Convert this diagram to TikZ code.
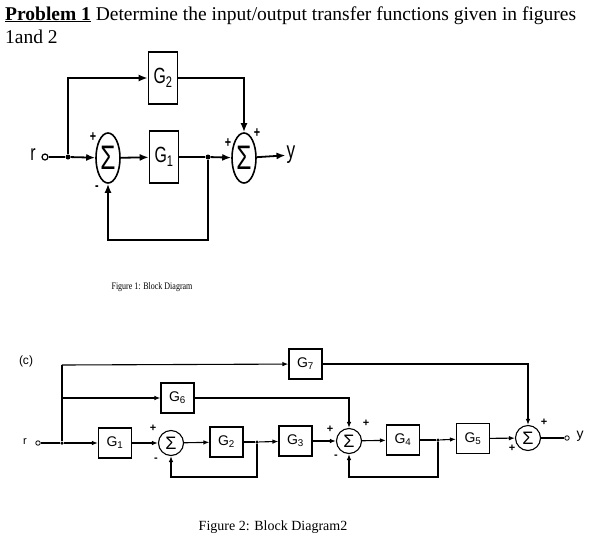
\documentclass[tikz,border=0pt]{standalone}
\usepackage{fontspec}
\setmainfont{Liberation Serif}
\setsansfont{Liberation Sans}
\newfontfamily\narrowsf[FakeStretch=0.72]{Liberation Sans}
\newfontfamily\narrowrm[FakeStretch=0.8]{Liberation Serif}
\usetikzlibrary{arrows.meta,shapes.geometric}

\begin{document}
\begin{tikzpicture}[x=1pt, y=-1pt,
    blkA/.style={draw, line width=1.6pt, minimum width=29pt, minimum height=52pt, inner sep=0pt, font=\narrowsf\fontsize{22}{22}\selectfont},
    sumA/.style={draw, ellipse, line width=1.6pt, minimum width=24pt, minimum height=50pt, inner sep=0pt, font=\narrowsf\fontsize{34}{34}\selectfont},
    lineA/.style={line width=1.8pt},
    wireA/.style={line width=1.8pt, -{Latex[length=9pt,width=7pt]}},
    dotA/.style={circle, fill, inner sep=0pt, minimum size=5pt},
    signA/.style={font=\narrowsf\bfseries\fontsize{15}{15}\selectfont, inner sep=0pt},
    blkB/.style={draw, line width=1.1pt, minimum width=33pt, minimum height=30pt, inner sep=0pt, font=\sffamily\fontsize{14}{14}\selectfont},
    sumB/.style={draw, circle, line width=1.1pt, minimum size=25pt, inner sep=0pt, font=\sffamily\fontsize{18}{18}\selectfont},
    lineB/.style={line width=1.1pt},
    wireB/.style={line width=1.1pt, -{Latex[length=6pt,width=4.5pt]}},
    dotB/.style={circle, fill, inner sep=0pt, minimum size=3.5pt},
    signB/.style={font=\sffamily\bfseries\fontsize{11}{11}\selectfont, inner sep=0pt},
    opencirc/.style={circle, draw, fill=white, inner sep=0pt, minimum size=4.5pt}]
    \useasboundingbox (0,0) rectangle (589,544);
    \node[anchor=base west, inner sep=0pt, font=\fontsize{19.5}{22}\selectfont] (title1) at (5,20) {\underline{\textbf{Problem 1}} Determine the input/output transfer functions given in figures};
    \node[anchor=base west, inner sep=0pt, font=\fontsize{19.5}{22}\selectfont] (title2) at (5,43) {1and 2};
    \node[font=\narrowsf\fontsize{22}{22}\selectfont, inner sep=0pt] (labrA) at (33,155) {r};
    \node[opencirc, line width=1.2pt, minimum size=6pt] (rA) at (45,157) {};
    \node[dotA] (dA1) at (68,157) {};
    \node[sumA] (sA1) at (108,158) {Σ};
    \node[blkA] (gA1) at (164,157) {G\textsubscript{1}};
    \node[blkA] (gA2) at (163,78) {G\textsubscript{2}};
    \node[dotA] (dA2) at (208,157) {};
    \node[sumA] (sA2) at (244,158) {Σ};
    \node[font=\narrowsf\fontsize{24}{24}\selectfont, inner sep=1pt] (yA) at (291,155) {y};
    \coordinate (fbA) at (208,240);
    \draw[lineA] (rA) -- (dA1);
    \draw[wireA] (dA1) -- (sA1);
    \draw[wireA] (dA1) |- (gA2);
    \draw[wireA] (sA1) -- (gA1);
    \draw[lineA] (gA1) -- (dA2);
    \draw[wireA] (dA2) -- (sA2);
    \draw[wireA] (gA2) -| (sA2);
    \draw[wireA] (sA2) -- (yA);
    \draw[wireA] (dA2) -- (fbA) -| (sA1);
    \node[signA] (pA1) at (93,137) {+};
    \node[signA] (mA1) at (97,188) {-};
    \node[signA] (pA2) at (228,143) {+};
    \node[signA] (pA3) at (257,133) {+};
    \node[font=\narrowrm\fontsize{10}{10}\selectfont, inner sep=0pt] (capA) at (152,287) {Figure 1: Block Diagram};
    \node[font=\sffamily\fontsize{12}{12}\selectfont, inner sep=0pt] (partc) at (26,361) {(c)};
    \node[font=\sffamily\fontsize{11}{11}\selectfont, inner sep=0pt] (labrB) at (25,442) {r};
    \node[opencirc, line width=0.8pt] (rB) at (38,443) {};
    \node[dotB] (dB1) at (62,443) {};
    \coordinate (tB) at (62,365);
    \coordinate (mB) at (62,398);
    \node[blkB] (gB1) at (115,443) {G\textsubscript{1}};
    \node[sumB] (sB1) at (171,443) {Σ};
    \node[blkB] (gB6) at (177.5,398) {G\textsubscript{6}};
    \node[blkB] (gB7) at (305.5,364) {G\textsubscript{7}};
    \node[blkB] (gB2) at (226.5,442) {G\textsubscript{2}};
    \node[dotB] (dB2) at (257,442) {};
    \node[blkB] (gB3) at (295.5,441) {G\textsubscript{3}};
    \node[sumB] (sB2) at (349,441) {Σ};
    \node[blkB] (gB4) at (403,440) {G\textsubscript{4}};
    \node[dotB] (dB3) at (438,440) {};
    \node[blkB] (gB5) at (473,438.5) {G\textsubscript{5}};
    \node[sumB] (sB3) at (528,438) {Σ};
    \node[opencirc, line width=0.8pt] (yB0) at (567,438) {};
    \node[font=\sffamily\fontsize{14}{14}\selectfont, inner sep=0pt] (labyB) at (580,436) {y};
    \coordinate (fbB1) at (257,477);
    \coordinate (fbB2) at (438,477);
    \draw[lineB] (rB) -- (dB1);
    \draw[lineB] (dB1) -- (tB);
    \draw[wireB] (tB) -- (gB7);
    \draw[wireB] (mB) -- (gB6);
    \draw[wireB] (dB1) -- (gB1);
    \draw[wireB] (gB1) -- (sB1);
    \draw[wireB] (sB1) -- (gB2);
    \draw[lineB] (gB2) -- (dB2);
    \draw[wireB] (dB2) -- (gB3);
    \draw[wireB] (dB2) -- (fbB1) -| (sB1);
    \draw[wireB] (gB3) -- (sB2);
    \draw[wireB] (gB6) -| (sB2);
    \draw[wireB] (sB2) -- (gB4);
    \draw[lineB] (gB4) -- (dB3);
    \draw[wireB] (dB3) -- (gB5);
    \draw[wireB] (dB3) -- (fbB2) -| (sB2);
    \draw[wireB] (gB5) -- (sB3);
    \draw[wireB] (gB7) -| (sB3);
    \draw[lineB] (sB3) -- (yB0);
    \node[signB] (pB1) at (153,428) {+};
    \node[signB] (mB1) at (156,460) {-};
    \node[signB] (pB2) at (330,429) {+};
    \node[signB] (pB3) at (366,423) {+};
    \node[signB] (mB2) at (336,457) {-};
    \node[signB] (pB4) at (544,422) {+};
    \node[signB] (pB5) at (512,448) {+};
    \node[font=\fontsize{14}{14}\selectfont, inner sep=0pt] (capB) at (273,527) {Figure 2: Block Diagram2};
\end{tikzpicture}
\end{document}
